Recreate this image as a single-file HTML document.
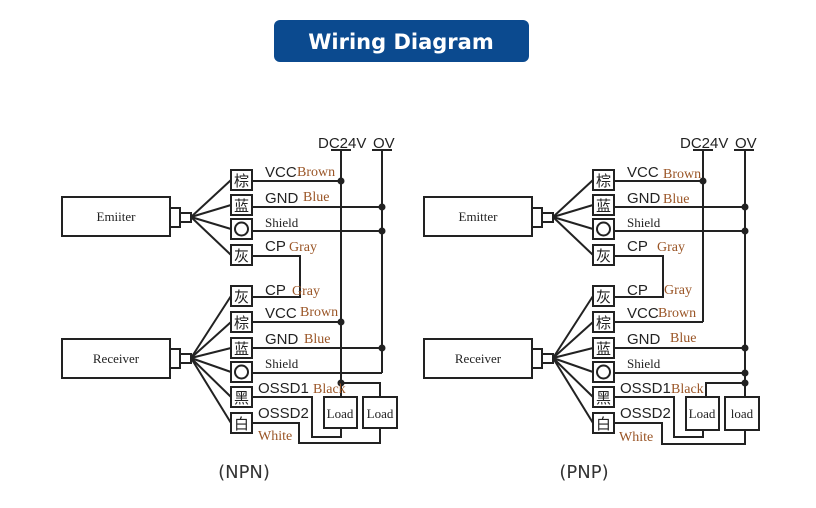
<!DOCTYPE html>
<html><head><meta charset="utf-8"><style>
html,body{margin:0;padding:0;background:#fff;}
svg{display:block;}
.t{font-family:"Liberation Sans","DejaVu Sans",sans-serif;font-size:15px;fill:#222;}
.s{font-family:"Liberation Serif",serif;font-size:13px;fill:#222;}
.b{font-family:"Liberation Serif",serif;font-size:14px;fill:#9a5526;}
.c{font-family:"Noto Sans CJK SC",sans-serif;font-size:15px;fill:#222;}
</style></head><body>
<svg width="816" height="508" viewBox="0 0 816 508" xmlns="http://www.w3.org/2000/svg">
<rect x="274" y="20" width="255" height="42" rx="6" fill="#0b4a8f"/>
<text x="401" y="49" text-anchor="middle" font-family="'DejaVu Sans','Liberation Sans',sans-serif" font-weight="bold" font-size="21" fill="#fff">Wiring Diagram</text>

<defs>
<g id="common" fill="none" stroke="#222" stroke-width="2">
  <rect x="62" y="197" width="108" height="39" fill="#fff"/>
  <rect x="170" y="208" width="10" height="19" fill="#fff"/>
  <rect x="180" y="213" width="11" height="9" fill="#fff"/>
  <line x1="191" y1="217" x2="231" y2="180"/>
  <line x1="191" y1="217" x2="231" y2="205"/>
  <line x1="191" y1="217" x2="231" y2="229"/>
  <line x1="191" y1="217" x2="231" y2="255"/>
  <rect x="62" y="339" width="108" height="39" fill="#fff"/>
  <rect x="170" y="349" width="10" height="19" fill="#fff"/>
  <rect x="180" y="354" width="11" height="9" fill="#fff"/>
  <line x1="191" y1="358" x2="231" y2="296"/>
  <line x1="191" y1="358" x2="231" y2="322"/>
  <line x1="191" y1="358" x2="231" y2="348"/>
  <line x1="191" y1="358" x2="231" y2="372"/>
  <line x1="191" y1="358" x2="231" y2="397"/>
  <line x1="191" y1="358" x2="231" y2="423"/>
  <rect x="231" y="170" width="21" height="20" fill="#fff"/>
  <rect x="231" y="195" width="21" height="20" fill="#fff"/>
  <rect x="231" y="219" width="21" height="20" fill="#fff"/>
  <rect x="231" y="245" width="21" height="20" fill="#fff"/>
  <rect x="231" y="286" width="21" height="20" fill="#fff"/>
  <rect x="231" y="312" width="21" height="20" fill="#fff"/>
  <rect x="231" y="338" width="21" height="20" fill="#fff"/>
  <rect x="231" y="362" width="21" height="20" fill="#fff"/>
  <rect x="231" y="387" width="21" height="20" fill="#fff"/>
  <rect x="231" y="413" width="21" height="20" fill="#fff"/>
  <circle cx="241.5" cy="229" r="6.5"/>
  <circle cx="241.5" cy="372" r="6.5"/>
  <line x1="331" y1="150" x2="351" y2="150"/>
  <line x1="372" y1="150" x2="392" y2="150"/>
  <line x1="252" y1="181" x2="341" y2="181"/>
  <line x1="252" y1="207" x2="382" y2="207"/>
  <line x1="252" y1="231" x2="382" y2="231"/>
  <line x1="252" y1="348" x2="382" y2="348"/>
  <line x1="252" y1="373" x2="382" y2="373"/>
</g>
</defs>

<use href="#common"/>
<use href="#common" transform="translate(362,0)"/>

<g fill="none" stroke="#222" stroke-width="2">
  <polyline points="252,256 300,256 300,297 252,297"/>
  <line x1="252" y1="322" x2="341" y2="322"/>
  <line x1="341" y1="150" x2="341" y2="397"/>
  <line x1="382" y1="150" x2="382" y2="373"/>
  <polyline points="341,383 380,383 380,397"/>
  <rect x="324" y="397" width="33" height="31" fill="#fff"/>
  <rect x="363" y="397" width="34" height="31" fill="#fff"/>
  <polyline points="252,397 312,397 312,437 341,437 341,428"/>
  <polyline points="252,423 299,423 299,443 380,443 380,428"/>
</g>
<g fill="#222">
  <circle cx="341" cy="181" r="3.5"/><circle cx="382" cy="207" r="3.5"/><circle cx="382" cy="231" r="3.5"/>
  <circle cx="341" cy="322" r="3.5"/><circle cx="382" cy="348" r="3.5"/><circle cx="341" cy="383" r="3.5"/>
</g>

<g fill="none" stroke="#222" stroke-width="2">
  <polyline points="614,256 663,256 663,297 614,297"/>
  <line x1="614" y1="322" x2="703" y2="322"/>
  <line x1="703" y1="150" x2="703" y2="322"/>
  <line x1="745" y1="150" x2="745" y2="397"/>
  <polyline points="745,383 706,383 706,397"/>
  <rect x="686" y="397" width="33" height="33" fill="#fff"/>
  <rect x="725" y="397" width="34" height="33" fill="#fff"/>
  <polyline points="614,397 674,397 674,437 703,437 703,430"/>
  <polyline points="614,423 662,423 662,444 745,444 745,430"/>
</g>
<g fill="#222">
  <circle cx="703" cy="181" r="3.5"/><circle cx="745" cy="207" r="3.5"/><circle cx="745" cy="231" r="3.5"/>
  <circle cx="745" cy="348" r="3.5"/><circle cx="745" cy="373" r="3.5"/><circle cx="745" cy="383" r="3.5"/>
</g>

<text class="s" x="116" y="221" text-anchor="middle">Emiiter</text>
<text class="s" x="116" y="363" text-anchor="middle">Receiver</text>
<g class="c" text-anchor="middle">
<text x="241.5" y="186">棕</text><text x="241.5" y="211">蓝</text><text x="241.5" y="261">灰</text>
<text x="241.5" y="302">灰</text><text x="241.5" y="328">棕</text><text x="241.5" y="354">蓝</text>
<text x="241.5" y="403">黑</text><text x="241.5" y="429">白</text>
<text x="603.5" y="186">棕</text><text x="603.5" y="211">蓝</text><text x="603.5" y="261">灰</text>
<text x="603.5" y="302">灰</text><text x="603.5" y="328">棕</text><text x="603.5" y="354">蓝</text>
<text x="603.5" y="403">黑</text><text x="603.5" y="429">白</text>
</g>
<text class="t" x="318" y="148" font-size="13">DC24V</text><text class="t" x="373" y="148" font-size="13">OV</text>
<text class="t" x="680" y="148" font-size="13">DC24V</text><text class="t" x="735" y="148" font-size="13">OV</text>

<text class="t" x="265" y="177">VCC</text><text class="b" x="297" y="176">Brown</text>
<text class="t" x="265" y="203">GND</text><text class="b" x="303" y="201">Blue</text>
<text class="s" x="265" y="227">Shield</text>
<text class="t" x="265" y="251">CP</text><text class="b" x="289" y="251">Gray</text>
<text class="t" x="265" y="295">CP</text><text class="b" x="292" y="295">Gray</text>
<text class="t" x="265" y="318">VCC</text><text class="b" x="300" y="316">Brown</text>
<text class="t" x="265" y="344">GND</text><text class="b" x="304" y="343">Blue</text>
<text class="s" x="265" y="368">Shield</text>
<text class="t" x="258" y="393">OSSD1</text><text class="b" x="313" y="393">Black</text>
<text class="t" x="258" y="418">OSSD2</text>
<text class="b" x="258" y="440">White</text>
<text class="s" x="340" y="418" text-anchor="middle" font-size="12">Load</text>
<text class="s" x="380" y="418" text-anchor="middle" font-size="12">Load</text>

<text class="s" x="478" y="221" text-anchor="middle">Emitter</text>
<text class="s" x="478" y="363" text-anchor="middle">Receiver</text>
<text class="t" x="627" y="177">VCC</text><text class="b" x="663" y="178">Brown</text>
<text class="t" x="627" y="203">GND</text><text class="b" x="663" y="203">Blue</text>
<text class="s" x="627" y="227">Shield</text>
<text class="t" x="627" y="251">CP</text><text class="b" x="657" y="251">Gray</text>
<text class="t" x="627" y="295">CP</text><text class="b" x="664" y="294">Gray</text>
<text class="t" x="627" y="318">VCC</text><text class="b" x="658" y="317">Brown</text>
<text class="t" x="627" y="344">GND</text><text class="b" x="670" y="342">Blue</text>
<text class="s" x="627" y="368">Shield</text>
<text class="t" x="620" y="393">OSSD1</text><text class="b" x="671" y="393">Black</text>
<text class="t" x="620" y="418">OSSD2</text>
<text class="b" x="619" y="441">White</text>
<text class="s" x="702" y="418" text-anchor="middle" font-size="12">Load</text>
<text class="s" x="742" y="418" text-anchor="middle" font-size="12">load</text>

<text x="244" y="478" text-anchor="middle" font-family="'DejaVu Sans','Liberation Sans',sans-serif" font-size="18" fill="#333">(NPN)</text>
<text x="584" y="478" text-anchor="middle" font-family="'DejaVu Sans','Liberation Sans',sans-serif" font-size="18" fill="#333">(PNP)</text>
</svg>
</body></html>
